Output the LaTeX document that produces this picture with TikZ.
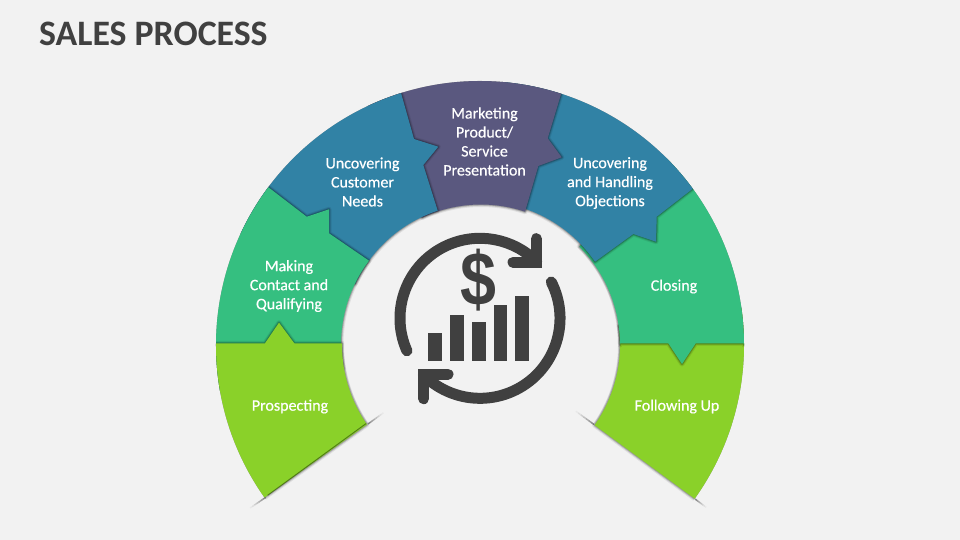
\documentclass[tikz,border=0pt]{standalone}
\usepackage{graphicx}
\usepackage{fontspec}
\setmainfont{Carlito}
\definecolor{bgc}{HTML}{F2F2F2}
\definecolor{limec}{HTML}{8AD129}
\definecolor{greenc}{HTML}{35BF80}
\definecolor{bluec}{HTML}{3182A5}
\definecolor{purplec}{HTML}{5A587F}
\definecolor{iconc}{HTML}{404040}
\tikzset{
  lbl/.style={text=white,align=center,font=\addfontfeature{FakeBold=0.4}\fontsize{16}{19}\selectfont,inner sep=0pt},
  iconline/.style={draw=iconc,line width=11pt,line cap=round,line join=miter},
  iconbar/.style={fill=iconc,draw=none},
}
\newcommand{\ringclip}{\clip ([shift={(142:264)}]480,345) arc[start angle=142,end angle=398,radius=264] -- ([shift={(38:137)}]481,345) arc[start angle=38,end angle=-218,radius=137] -- cycle;}
\newcommand{\segment}[2]{%
  \begin{scope}
    \ringclip
    \draw[black,opacity=.08,line width=5pt,line join=round] #2;
    \draw[black,opacity=.14,line width=3pt,line join=round] #2;
    \draw[black,opacity=.2,line width=1.4pt,line join=round] #2;
  \end{scope}
  \fill[#1] #2;
}
\newcommand{\streak}[4]{%
  \foreach \i/\o in {0/.42,1/.34,2/.27,3/.2,4/.14,5/.08,6/.04}{
    \draw[black,opacity=\o,line width=1.5pt] ({#1+\i*#3},{#2+\i*#4}) -- ++(#3,#4);
  }
}
\begin{document}
\begin{tikzpicture}[x=1pt,y=-1pt]
\useasboundingbox (0,0) rectangle (960,540);
\fill[bgc] (0,0) rectangle (960,540);

\node[anchor=west,inner sep=0pt,text=iconc,font=\fontsize{35.8}{40}\selectfont\bfseries] (title) at (39,34) {SALES PROCESS};

% streaks
\streak{368}{424}{2.2}{-1.6}
\streak{265.5}{497.5}{-2.2}{1.5}
\streak{594}{424.5}{-2.6}{-1.9}
\streak{695}{499}{1.6}{1.2}

% right lime
\segment{limec}{([shift={(35.6:264)}]480,345) arc[start angle=35.6,end angle=-8,radius=264] -- ([shift={(-8:139)}]481,345) arc[start angle=-8,end angle=35.2,radius=139] -- cycle}
% right green
\segment{greenc}{([shift={(315:264)}]480,345) arc[start angle=315,end angle=360,radius=264] -- (743.8,343.3) -- (695.7,343.3) -- (682,364) -- (668.3,343.3) -- (620,343.3) -- ([shift={(0:139)}]481,345) arc[start angle=360,end angle=315,radius=139] -- cycle}
% right blue
\segment{bluec}{([shift={(275:264)}]480,345) arc[start angle=275,end angle=323.7,radius=264] -- (656.7,216.7) -- (656,241.7) -- (633.3,234) -- (595,261.7) arc[start angle=325.5,end angle=275,radius=139] -- cycle}
% purple
\segment{purplec}{([shift={(245:264)}]480,345) arc[start angle=245,end angle=287.9,radius=264] -- (547.7,138.3) -- (561.7,157.3) -- (538.3,166) -- (525,211.7) arc[start angle=288.5,end angle=245,radius=139] -- cycle}
% left blue
\segment{bluec}{([shift={(205:264)}]480,345) arc[start angle=205,end angle=252.6,radius=264] -- (414,139) -- (438.3,146.7) -- (423.3,165) -- (437.7,210.7) arc[start angle=251.8,end angle=205,radius=139] -- cycle}
% left green
\segment{greenc}{([shift={(170:264)}]480,345) arc[start angle=170,end angle=216.7,radius=264] -- (306.7,216.7) -- (329,209.3) -- (329,233.3) -- (369,260.7) arc[start angle=217,end angle=170,radius=139] -- cycle}
% left lime
\segment{limec}{([shift={(144.7:264)}]480,345) arc[start angle=144.7,end angle=180,radius=264] -- (216,343.3) -- (265,343.3) -- (279,322.7) -- (294.3,343.3) -- (342,343.3) -- ([shift={(180:139)}]481,345) arc[start angle=180,end angle=145.1,radius=139] -- cycle}
\draw[black!60!limec,line width=.9pt,opacity=.7] (267.6,495.3) -- (366,423.6);

% icon
\draw[iconline] ([shift={(156:80)}]480,318.3) arc[start angle=156,end angle=315,radius=80] ;
\draw[iconline] (536.3,238.7) -- (536.3,262.3) -- (513,262.3);
\draw[iconline] ([shift={(333:80)}]480,318.3) arc[start angle=333,end angle=495,radius=80];
\draw[iconline] (423.7,398.7) -- (423.7,374.2) -- (448,374.2);
\fill[iconbar] (428.3,332.7) rectangle (442.3,360.7);
\fill[iconbar] (450,315.3) rectangle (464,360.7);
\fill[iconbar] (472,322.3) rectangle (485.7,360.7);
\fill[iconbar] (493.7,305.3) rectangle (507.3,360.7);
\fill[iconbar] (515.3,296) rectangle (529.3,360.7);
\node[inner sep=0pt,text=iconc,font=\fontspec{Liberation Sans}\fontsize{76}{80}\selectfont\bfseries] (dollar) at (478,280.5) {\scalebox{.85}[1]{\$}};

% labels
\node[lbl] (l1) at (290,406.5) {Prospecting};
\node[lbl] (l2) at (289,286) {Making\\Contact and\\Qualifying};
\node[lbl] (l3) at (362.5,182) {Uncovering\\Customer\\Needs};
\node[lbl] (l4) at (484.5,141.5) {Marketing\\Product/\\Service\\Presentation};
\node[lbl] (l5) at (610,183) {Uncovering\\and Handling\\Objections};
\node[lbl] (l6) at (674,286.5) {Closing};
\node[lbl] (l7) at (677,406.5) {Following Up};
\end{tikzpicture}
\end{document}
